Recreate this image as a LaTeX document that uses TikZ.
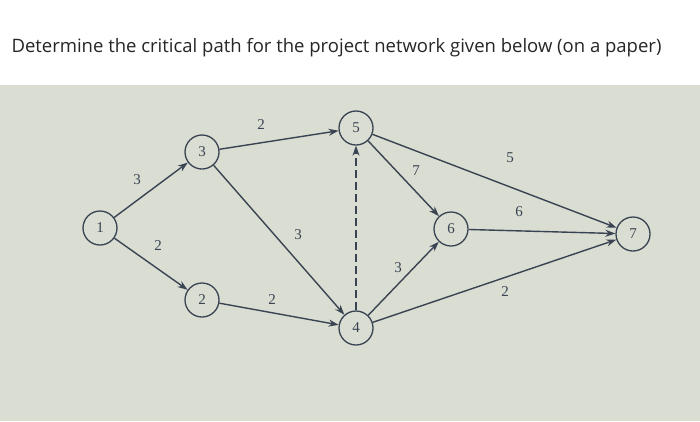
\documentclass[tikz,border=0pt]{standalone}
\usepackage{fontspec}
\setmainfont{Liberation Serif}
\newfontfamily\titlefont{Open Sans}
\usetikzlibrary{arrows.meta}
\definecolor{ink}{HTML}{3A4352}
\definecolor{paper}{HTML}{D9DDD2}
\begin{document}
\begin{tikzpicture}[x=1pt,y=-1pt,
  ev/.style={circle,draw=ink,line width=1.3pt,minimum size=34pt,inner sep=0pt,font=\fontsize{15}{15}\selectfont,text=ink,fill=paper},
  act/.style={ink,line width=1.4pt,-{Stealth[length=10pt,width=7pt]}},
  wt/.style={font=\fontsize{15}{15}\selectfont,text=ink}]
\useasboundingbox (0,0) rectangle (700,421);
\fill[white] (0,0) rectangle (700,85);
\fill[paper] (0,85) rectangle (700,421);
\node[anchor=west,font=\titlefont\fontsize{18.5}{22}\selectfont,text=black!85] (title) at (8,48) {Determine the critical path for the project network given below (on a paper)};
\node[ev] (n1) at (100,228) {1};
\node[ev] (n3) at (202,152) {3};
\node[ev] (n2) at (202,300) {2};
\node[ev] (n5) at (356,128) {5};
\node[ev] (n4) at (356,328) {4};
\node[ev] (n6) at (451,229) {6};
\node[ev] (n7) at (633,234) {7};
\draw[act] (n1) -- (n3);
\draw[act] (n1) -- (n2);
\draw[act] (n3) -- (n5);
\draw[act] (n3) -- (n4);
\draw[act] (n2) -- (n4);
\draw[act,dash pattern=on 8pt off 4pt] (n4) -- (n5);
\draw[act] (n5) -- (n6);
\draw[act] (n4) -- (n6);
\draw[act] (n5) -- (n7);
\draw[act] (n6) -- (n7);
\draw[act] (n4) -- (n7);
\node[wt] (w13) at (137,180) {3};
\node[wt] (w12) at (158,246) {2};
\node[wt] (w35) at (261,125) {2};
\node[wt] (w34) at (298,235) {3};
\node[wt] (w24) at (272,300) {2};
\node[wt] (w56) at (416,171) {7};
\node[wt] (w46) at (398,268) {3};
\node[wt] (w57) at (510,158) {5};
\node[wt] (w67) at (519,212) {6};
\node[wt] (w47) at (505,292) {2};
\end{tikzpicture}
\end{document}
